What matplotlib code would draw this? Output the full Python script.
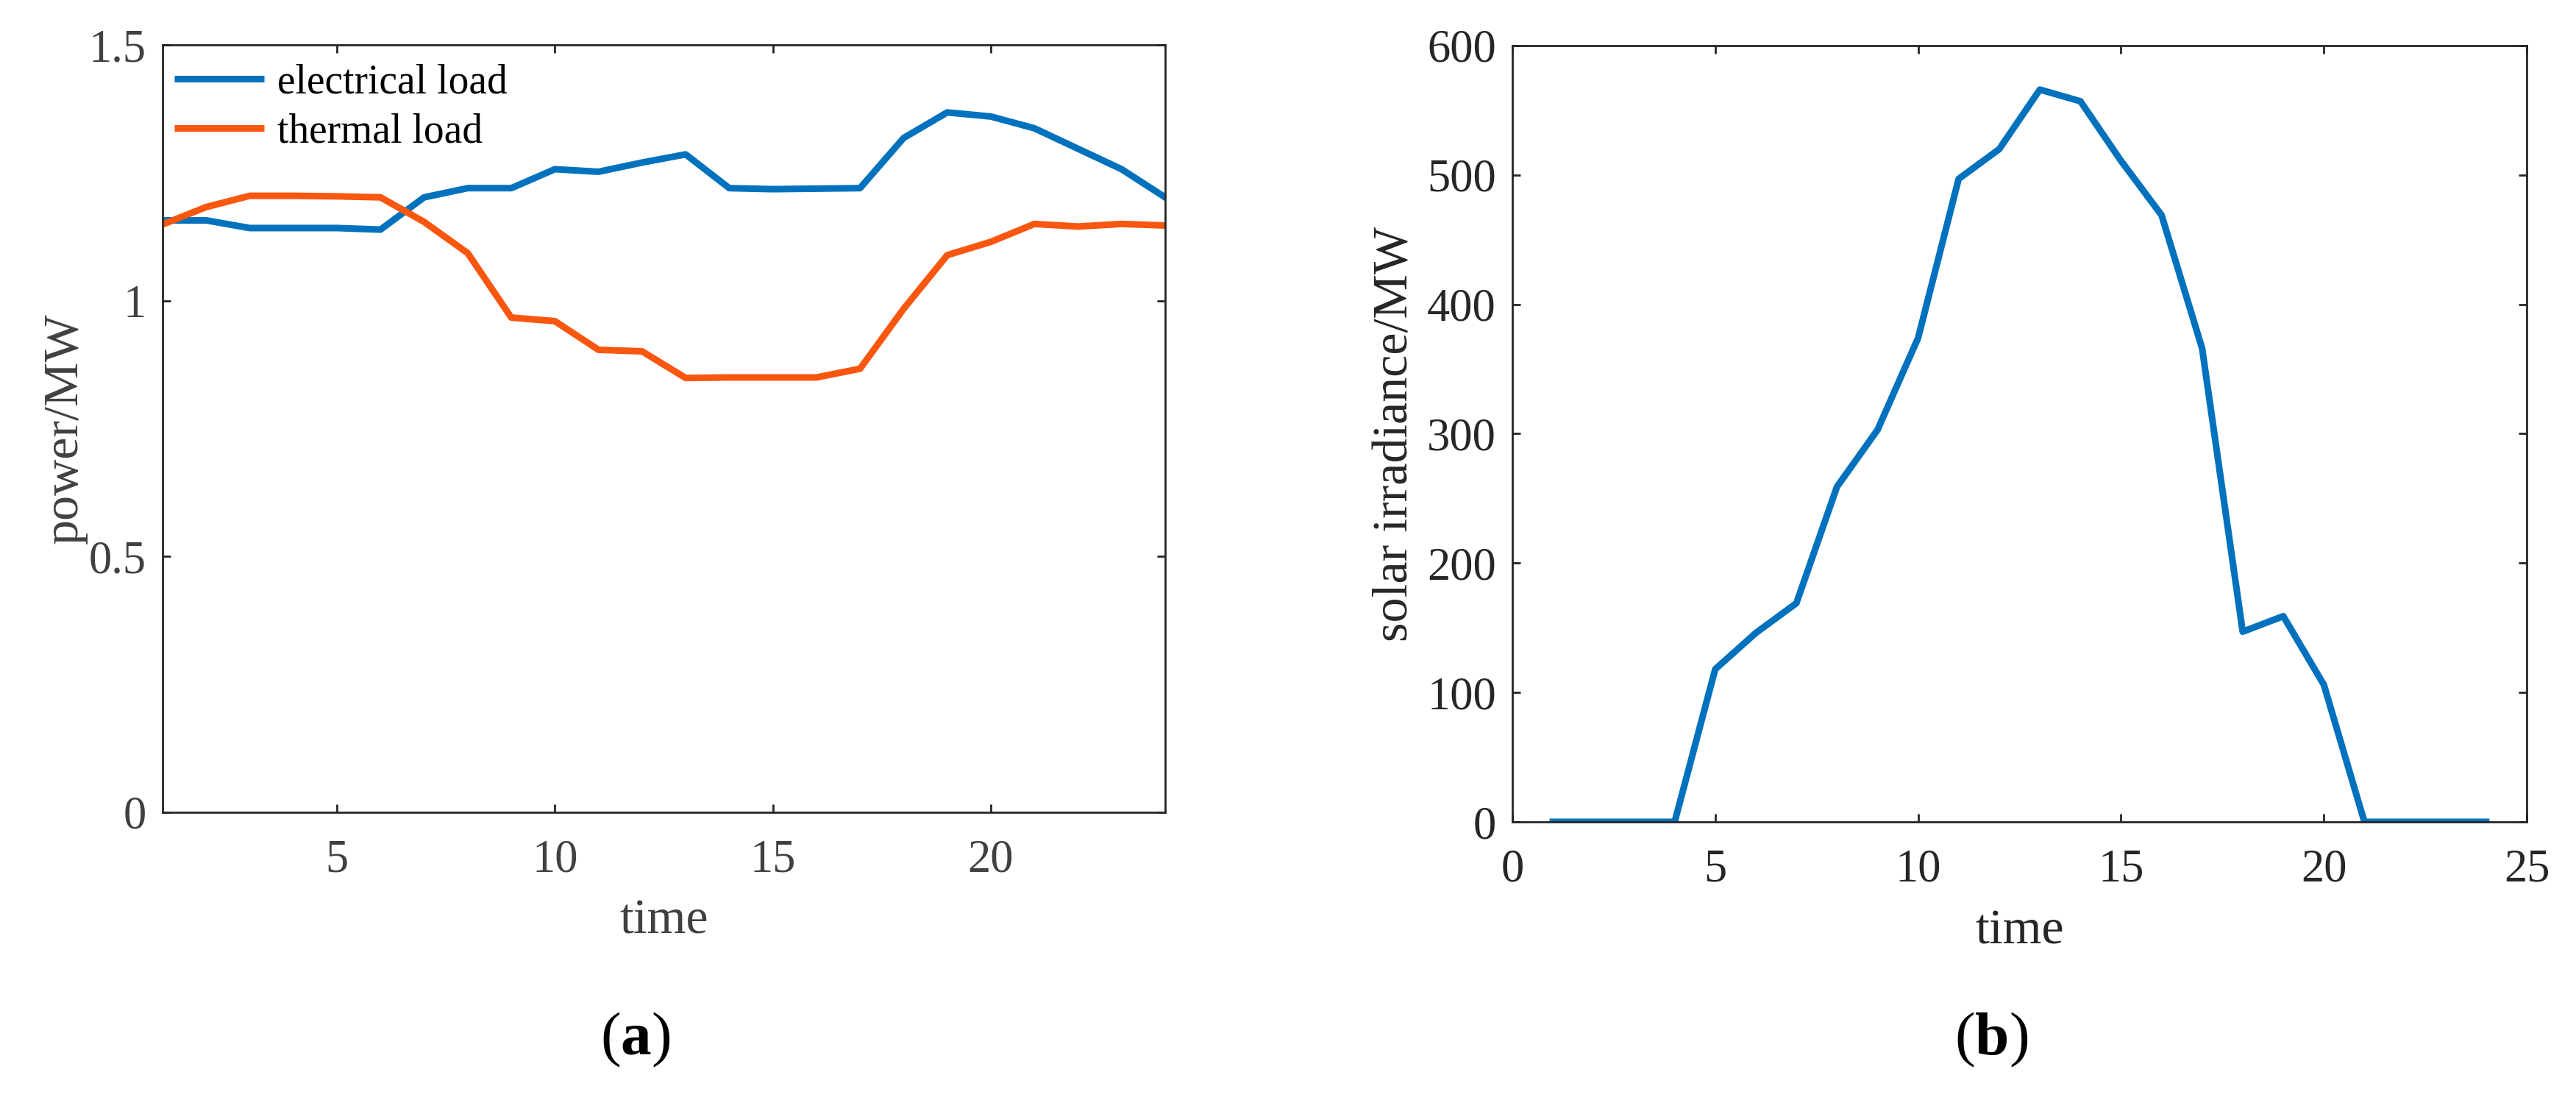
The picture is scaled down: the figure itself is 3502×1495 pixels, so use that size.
import numpy as np
import matplotlib
matplotlib.use('Agg')
from matplotlib import pyplot as plt

plt.rcParams['font.family'] = ['Liberation Serif', 'DejaVu Serif']
plt.rcParams['mathtext.fontset'] = 'custom'
plt.rcParams['mathtext.rm'] = 'Liberation Serif'
plt.rcParams['mathtext.bf'] = 'Liberation Serif:bold'

## data
hours = np.arange(1, 25)
electrical_load = [1.157, 1.157, 1.142, 1.142, 1.142, 1.139, 1.202, 1.220,
                   1.220, 1.257, 1.252, 1.270, 1.286, 1.220, 1.218, 1.219,
                   1.220, 1.318, 1.368, 1.360, 1.337, 1.297, 1.257, 1.202]
thermal_load = [1.149, 1.183, 1.205, 1.205, 1.204, 1.202, 1.154, 1.093,
                0.967, 0.960, 0.904, 0.901, 0.849, 0.850, 0.850, 0.850,
                0.867, 0.984, 1.089, 1.115, 1.150, 1.145, 1.150, 1.147]
solar = [0, 0, 0, 0, 118, 146, 169, 259, 303, 374, 497, 520,
         566, 557, 511, 469, 366, 147, 159, 106, 0, 0, 0, 0]

blue = '#0072BD'
orange = '#F9560F'
W, H = 3502, 1495

fig = plt.figure(figsize=(W / 100, H / 100), dpi=100)

## pixel boxes of the two panels
ax1 = fig.add_axes([221 / W, 1 - 1104 / H, (1584 - 221) / W, (1104 - 61) / H])
ax2 = fig.add_axes([2056 / W, 1 - 1117 / H, (3435 - 2056) / W, (1117 - 62) / H])


def style(ax, col):
    for s in ax.spines.values():
        s.set_linewidth(2.0)
        s.set_color('#262626')
    ax.tick_params(direction='in', length=8, width=2, top=True, right=True,
                   labelsize=45, colors='#262626', labelcolor=col)
    ax.tick_params(axis='x', pad=26)
    ax.tick_params(axis='y', pad=16)


## (a) loads
ax1.plot(hours, electrical_load, color=blue, lw=6.5, label='electrical load')
ax1.plot(hours, thermal_load, color=orange, lw=6.5, label='thermal load')
ax1.set_xlim(1, 24)
ax1.set_ylim(0, 1.5)
ax1.set_xticks([5, 10, 15, 20])
ax1.set_yticks([0, 0.5, 1, 1.5])
ax1.set_yticklabels(['0', '0.5', '1', '1.5'])
style(ax1, '#404040')
ax1.set_xlabel('time', fontsize=49, color='#404040')
ax1.set_ylabel('power/MW', fontsize=49, color='#404040')
ax1.xaxis.set_label_coords(0.5, -0.113)
ax1.yaxis.set_label_coords(-0.075, 0.5)
leg = ax1.legend(loc='upper left', fontsize=40, frameon=False,
                 bbox_to_anchor=(0.0117, 0.976), borderpad=0, borderaxespad=0,
                 handlelength=2.2, handletextpad=0.32, labelspacing=0.27)
for h in leg.get_lines():
    h.set_solid_capstyle('butt')

## (b) solar
ax2.plot(hours, solar, color=blue, lw=6.5)
ax2.set_xlim(0, 25)
ax2.set_ylim(0, 600)
ax2.set_xticks([0, 5, 10, 15, 20, 25])
ax2.set_yticks([0, 100, 200, 300, 400, 500, 600])
style(ax2, '#262626')
ax2.set_xlabel('time', fontsize=49, color='#262626')
ax2.set_ylabel('solar irradiance/MW', fontsize=49, color='#262626')
ax2.xaxis.set_label_coords(0.5, -0.112)
ax2.yaxis.set_label_coords(-0.0935, 0.5)

fig.text(864 / W, 1 - 1413 / H, r'($\mathbf{a}$)', fontsize=60,
         ha='center', va='center', color='black')
fig.text(2707 / W, 1 - 1413 / H, r'($\mathbf{b}$)', fontsize=60,
         ha='center', va='center', color='black')

fig.savefig('out.png', dpi=100)
